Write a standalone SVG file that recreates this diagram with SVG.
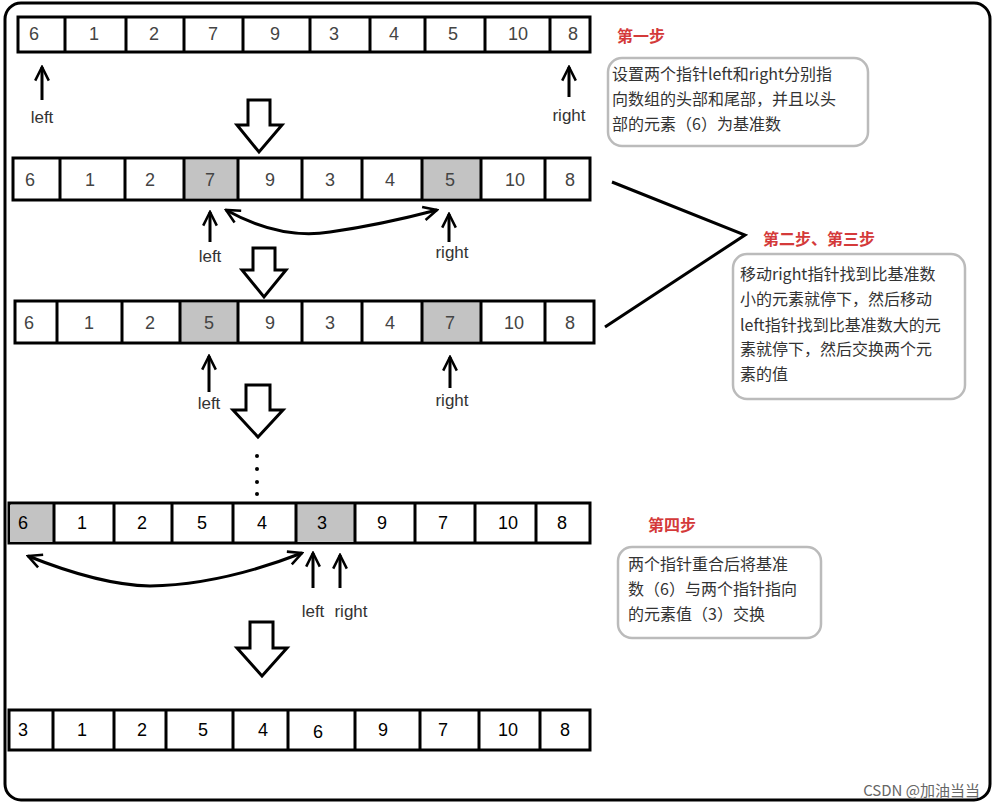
<svg xmlns="http://www.w3.org/2000/svg" width="996" height="810" viewBox="0 0 996 810">
<defs>
<style>
.cell{fill:#fff;stroke:#000;stroke-width:3}
.g{fill:#c3c3c3}
.n{font-family:"Liberation Sans",sans-serif;font-size:18px;fill:#444;text-anchor:middle}
.nb{font-family:"Liberation Sans",sans-serif;font-size:18px;fill:#000;text-anchor:middle}
.lb{font-family:"Liberation Sans",sans-serif;font-size:17px;fill:#333;text-anchor:middle}
.ln{fill:none;stroke:#000;stroke-width:3}
.big{fill:#fff;stroke:#000;stroke-width:3;stroke-linejoin:miter}
.box{fill:#fff;stroke:#bbb;stroke-width:2.5}
.t{font-family:"Noto Sans CJK SC","Noto Sans",sans-serif;font-size:16px;fill:#333}
.red{font-family:"Noto Sans CJK SC",sans-serif;font-size:16px;fill:#d43a3a;font-weight:bold}
</style>
<marker id="ah" viewBox="0 0 20 20" refX="18" refY="10" markerWidth="17" markerHeight="17" markerUnits="userSpaceOnUse" orient="auto-start-reverse"><path d="M2,2 L18,10 L2,18" fill="none" stroke="#000" stroke-width="3"/></marker>
</defs>
<rect x="5" y="3" width="985" height="797" rx="16" fill="#fff" stroke="#000" stroke-width="3"/>
<g id="row1">
<rect class="cell" x="18" y="17" width="572" height="35"/>
<path class="ln" d="M65,17V52M126,17V52M184,17V52M243,17V52M310,17V52M370,17V52M425,17V52M485,17V52M550,17V52"/>
<text class="n" y="40"><tspan x="34">6</tspan><tspan x="94">1</tspan><tspan x="154">2</tspan><tspan x="213">7</tspan><tspan x="275">9</tspan><tspan x="334">3</tspan><tspan x="394">4</tspan><tspan x="453">5</tspan><tspan x="518">10</tspan><tspan x="573">8</tspan></text>
</g>
<g id="row2">
<rect class="cell" x="13" y="158" width="577" height="42"/>
<rect class="g" x="185" y="160" width="52" height="38"/><rect class="g" x="423" y="160" width="57" height="38"/>
<path class="ln" d="M60,158V200M125,158V200M184,158V200M238,158V200M302,158V200M362,158V200M422,158V200M481,158V200M545,158V200"/>
<text class="n" y="186"><tspan x="30">6</tspan><tspan x="90">1</tspan><tspan x="150">2</tspan><tspan x="210">7</tspan><tspan x="270">9</tspan><tspan x="330">3</tspan><tspan x="390">4</tspan><tspan x="450">5</tspan><tspan x="515">10</tspan><tspan x="570">8</tspan></text>
</g>
<g id="row3">
<rect class="cell" x="15" y="301" width="579" height="42"/>
<rect class="g" x="181" y="303" width="56" height="38"/><rect class="g" x="423" y="303" width="57" height="38"/>
<path class="ln" d="M57,301V343M122,301V343M180,301V343M238,301V343M302,301V343M362,301V343M422,301V343M481,301V343M545,301V343"/>
<text class="n" y="329"><tspan x="29">6</tspan><tspan x="89">1</tspan><tspan x="150">2</tspan><tspan x="209">5</tspan><tspan x="270">9</tspan><tspan x="330">3</tspan><tspan x="390">4</tspan><tspan x="450">7</tspan><tspan x="514">10</tspan><tspan x="570">8</tspan></text>
</g>
<g id="row4">
<rect class="cell" x="9" y="503" width="581" height="40"/>
<rect class="g" x="10" y="505" width="43" height="37"/><rect class="g" x="297" y="505" width="57" height="37"/>
<path class="ln" d="M54,503V543M114,503V543M172,503V543M233,503V543M296,503V543M355,503V543M415,503V543M475,503V543M536,503V543"/>
<text class="nb" y="529"><tspan x="23">6</tspan><tspan x="82">1</tspan><tspan x="142">2</tspan><tspan x="202">5</tspan><tspan x="262">4</tspan><tspan x="322">3</tspan><tspan x="382">9</tspan><tspan x="443">7</tspan><tspan x="508">10</tspan><tspan x="562">8</tspan></text>
</g>
<g id="row5">
<rect class="cell" x="9" y="710" width="581" height="40"/>
<path class="ln" d="M53,710V750M114,710V750M166,710V750M233,710V750M288,710V750M355,710V750M420,710V750M479,710V750M540,710V750"/>
<text class="nb" y="736"><tspan x="23">3</tspan><tspan x="82">1</tspan><tspan x="142">2</tspan><tspan x="203">5</tspan><tspan x="263">4</tspan><tspan x="318" dy="2">6</tspan><tspan x="383" dy="-2">9</tspan><tspan x="443">7</tspan><tspan x="508">10</tspan><tspan x="565">8</tspan></text>
</g>
<g id="connectors">
<path class="ln" d="M42,100V67" marker-end="url(#ah)"/>
<path class="ln" d="M569,97V67" marker-end="url(#ah)"/>
<path class="ln" d="M210,242V212" marker-end="url(#ah)"/>
<path class="ln" d="M449,242V214" marker-end="url(#ah)"/>
<path class="ln" d="M226,210 Q280,240 330,232 Q380,225 437,210" marker-start="url(#ah)" marker-end="url(#ah)"/>
<path class="ln" d="M209,392V356" marker-end="url(#ah)"/>
<path class="ln" d="M450,388V357" marker-end="url(#ah)"/>
<path class="ln" d="M313,588V553" marker-end="url(#ah)"/>
<path class="ln" d="M340,588V555" marker-end="url(#ah)"/>
<path class="ln" d="M28,556 Q100,585 150,586 Q220,585 302,553" marker-start="url(#ah)" marker-end="url(#ah)"/>
<path class="big" d="M248,100H270V125H282L259,152L237,125H248Z"/>
<path class="big" d="M253,248H275V270H286L264,297L242,270H253Z"/>
<path class="big" d="M246,385H270V410H283L258,437L233,410H246Z"/>
<path class="big" d="M250,622H273V648H287L262,676L237,648H250Z"/>
<g fill="#000"><circle cx="257" cy="456" r="2"/><circle cx="257" cy="469" r="2"/><circle cx="257" cy="482" r="2"/><circle cx="257" cy="494" r="2"/></g>
<path class="ln" d="M612,182L745,235L605,327"/>
</g>
<g id="labels">
<text class="lb" x="42" y="123">left</text>
<text class="lb" x="569" y="121">right</text>
<text class="lb" x="210" y="262">left</text>
<text class="lb" x="452" y="258">right</text>
<text class="lb" x="209" y="409">left</text>
<text class="lb" x="452" y="406">right</text>
<text class="lb" x="313" y="617">left</text>
<text class="lb" x="351" y="617">right</text>
</g>
<g id="step1">
<text class="red" x="617" y="42">第一步</text>
<rect class="box" x="608" y="58" width="260" height="88" rx="14"/>
<text class="t" x="612"><tspan x="612" y="80">设置两个指针left和right分别指</tspan><tspan x="612" y="105">向数组的头部和尾部，并且以头</tspan><tspan x="612" y="130">部的元素（6）为基准数</tspan></text>
</g>
<g id="step23">
<text class="red" x="763" y="245">第二步、第三步</text>
<rect class="box" x="733" y="254" width="232" height="145" rx="14"/>
<text class="t"><tspan x="740" y="280">移动right指针找到比基准数</tspan><tspan x="740" y="305">小的元素就停下，然后移动</tspan><tspan x="740" y="331">left指针找到比基准数大的元</tspan><tspan x="740" y="355">素就停下，然后交换两个元</tspan><tspan x="740" y="380">素的值</tspan></text>
</g>
<g id="step4">
<text class="red" x="648" y="531">第四步</text>
<rect class="box" x="618" y="547" width="203" height="91" rx="14"/>
<text class="t"><tspan x="628" y="570">两个指针重合后将基准</tspan><tspan x="628" y="595">数（6）与两个指针指向</tspan><tspan x="628" y="620">的元素值（3）交换</tspan></text>
</g>
<text x="980" y="796" text-anchor="end" font-family="Noto Sans CJK SC,sans-serif" font-size="15" fill="#666">CSDN @加油当当</text>
</svg>
